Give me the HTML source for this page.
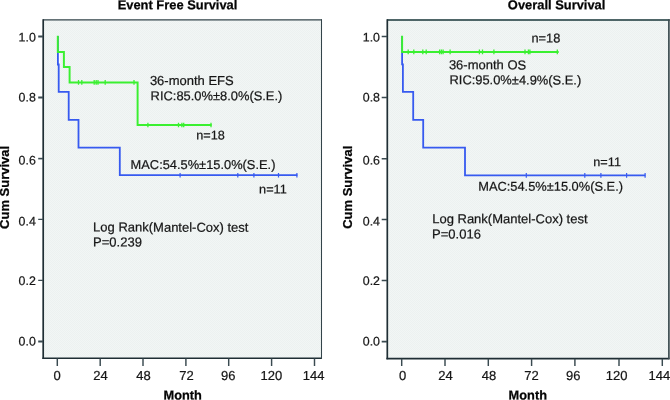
<!DOCTYPE html>
<html>
<head>
<meta charset="utf-8">
<title>Survival curves</title>
<style>
html,body{margin:0;padding:0;background:#fff;}
body{width:670px;height:400px;overflow:hidden;}
svg{display:block;filter:blur(0.3px);}
text{font-family:"Liberation Sans",Arial,Helvetica,sans-serif;font-size:13px;fill:#161616;stroke:#161616;stroke-width:0.22px;}
.yl text{font-size:12.4px;}
.b{font-weight:bold;fill:#050505;stroke:#050505;stroke-width:0.25px;}
.ax{stroke:#1f2e34;stroke-width:1.7;fill:none;}
.tk{stroke:#3a4a50;stroke-width:1.7;fill:none;}
.g{stroke:#3af030;stroke-width:1.95;fill:none;stroke-linejoin:miter;}
.gt{stroke:#3af030;stroke-width:1.3;fill:none;}
.u{stroke:#375af0;stroke-width:1.8;fill:none;stroke-linejoin:miter;}
.ut{stroke:#375af0;stroke-width:1.2;fill:none;}
</style>
</head>
<body>
<svg width="670" height="400" viewBox="0 0 670 400">
<defs>
<pattern id="ht" width="2" height="2" patternUnits="userSpaceOnUse">
<rect width="2" height="2" fill="#f2f6f5"/>
<rect x="0" y="0" width="1" height="1" fill="#ecf1f0"/>
<rect x="1" y="1" width="1" height="1" fill="#ecf1f0"/>
</pattern>
</defs>
<rect x="0" y="0" width="670" height="400" fill="#ffffff"/>

<!-- LEFT PANEL -->
<rect x="43.1" y="19.6" width="278.4" height="338.7" fill="url(#ht)"/>
<path class="ax" style="stroke:#33444a;stroke-width:1.25" d="M43.1,19.9 H321.9"/>
<path class="ax" d="M43.2,19.3 V359"/>
<path class="ax" style="stroke-width:1.5" d="M42.4,358.3 H322"/>
<path class="ax" style="stroke:#33444a;stroke-width:1.05" d="M321.5,19.3 V359"/>
<!-- y ticks -->
<path class="tk" style="stroke-width:2" d="M38.2,36.6H43 M38.2,97.4H43 M38.2,341.5H43"/>
<path class="tk" style="stroke-width:1.6" d="M38.2,158.6H43"/>
<path class="tk" style="stroke-width:1.35" d="M38.2,219.3H43 M38.2,280.4H43"/>
<!-- x ticks -->
<path class="tk" style="stroke-width:1.45" d="M57.3,358.5V365.9 M100.2,358.5V365.9 M143,358.5V365.9 M185.9,358.5V365.9 M228.7,358.5V365.9 M271.6,358.5V365.9 M314.5,358.5V365.9"/>
<g class="yl" text-anchor="end">
<text x="35.8" y="41.6" transform="rotate(0.03 35.8 41.6)">1.0</text>
<text x="35.8" y="101.6" transform="rotate(0.03 35.8 101.6)">0.8</text>
<text x="35.8" y="164.5" transform="rotate(0.03 35.8 164.5)">0.6</text>
<text x="35.8" y="225.5" transform="rotate(0.03 35.8 225.5)">0.4</text>
<text x="35.8" y="285" transform="rotate(0.03 35.8 285)">0.2</text>
<text x="35.8" y="345.6" transform="rotate(0.03 35.8 345.6)">0.0</text>
</g>
<g text-anchor="middle">
<text x="57.2" y="380" transform="rotate(0.03 57.2 380)">0</text>
<text x="100.5" y="380" transform="rotate(0.03 100.5 380)">24</text>
<text x="143.6" y="380" transform="rotate(0.03 143.6 380)">48</text>
<text x="186.4" y="380" transform="rotate(0.03 186.4 380)">72</text>
<text x="228.2" y="380" transform="rotate(0.03 228.2 380)">96</text>
<text x="271.4" y="380" transform="rotate(0.03 271.4 380)">120</text>
<text x="313.6" y="380" transform="rotate(0.03 313.6 380)">144</text>
</g>
<text class="b" x="177.5" y="9.2" text-anchor="middle" style="font-size:12.9px" transform="rotate(0.03 177.5 9.2)">Event Free Survival</text>
<text class="b" x="182.7" y="399.4" text-anchor="middle" style="font-size:12.8px" transform="rotate(0.03 182.7 399.4)">Month</text>
<text class="b" transform="translate(9.1,187.4) rotate(-90)" text-anchor="middle">Cum Survival</text>

<rect x="58.8" y="53" width="1.3" height="11.3" fill="#fdfefe"/>
<!-- blue MAC -->
<path class="u" d="M57.9,36 V64.5 H58.7 V91.8 H68.7 V119.8 H78.5 V147.6 H119.8 V175.15 H297.4"/>
<path class="ut" d="M180.1,173 V177.6 M237.8,173 V177.6 M253.9,173 V177.6 M278.5,173 V177.6 M296.9,173 V177.6"/>
<!-- green RIC -->
<path class="g" d="M57.8,35.8 V51.9 H63.9 V66.9 H69.6 V82.4 H137.6 V125 H211.6"/>
<path class="gt" d="M78.5,80.1 V84.7 M81.8,80.1 V84.7 M94.2,80.1 V84.7 M96.2,80.1 V84.7 M98,80.1 V84.7 M105.2,80.1 V84.7 M134,80.1 V84.7 M147.9,122.7 V127.3 M178.5,122.7 V127.3 M181.9,122.7 V127.3 M183.7,122.7 V127.3 M211,122.7 V127.3"/>

<text x="149.9" y="84.9" transform="rotate(0.03 149.9 84.9)">36-month EFS</text>
<text x="150.6" y="100.3" style="font-size:12.9px" transform="rotate(0.03 150.6 100.3)">RIC:85.0%±8.0%(S.E.)</text>
<text x="196.3" y="139.5" style="font-size:12.7px" transform="rotate(0.03 196.3 139.5)">n=18</text>
<text x="130.6" y="168.9" style="font-size:12.85px" transform="rotate(0.03 130.6 168.9)">MAC:54.5%±15.0%(S.E.)</text>
<text x="259.1" y="193.45" style="font-size:12.7px" transform="rotate(0.03 259.1 193.45)">n=11</text>
<text x="93.1" y="231.6" transform="rotate(0.03 93.1 231.6)">Log Rank(Mantel-Cox) test</text>
<text x="93.1" y="246.6" transform="rotate(0.03 93.1 246.6)">P=0.239</text>

<!-- RIGHT PANEL -->
<rect x="387.1" y="19.6" width="281.7" height="339" fill="url(#ht)"/>
<path class="ax" style="stroke:#4f6668;stroke-width:1.8" d="M387.1,20 H669.8"/>
<path class="ax" d="M387.3,19.3 V359.3"/>
<path class="ax" style="stroke-width:1.6" d="M386.4,358.6 H669.5"/>
<path class="ax" style="stroke:#3c4c50;stroke-width:1.7" d="M668.9,19.3 V359.3"/>
<path class="tk" style="stroke-width:1.55" d="M381.7,36.4H387 M381.7,97.5H387 M381.7,158.7H387 M381.7,219.5H387 M381.7,280.5H387 M381.7,341.6H387"/>
<path class="tk" style="stroke-width:1.45" d="M401.7,358.8V366 M445,358.8V366 M488.3,358.8V366 M531.6,358.8V366 M574.9,358.8V366 M619,358.8V366 M662.3,358.8V366"/>
<g class="yl" text-anchor="end">
<text x="380" y="41.6" transform="rotate(0.03 380 41.6)">1.0</text>
<text x="380" y="101.6" transform="rotate(0.03 380 101.6)">0.8</text>
<text x="380" y="164.5" transform="rotate(0.03 380 164.5)">0.6</text>
<text x="380" y="225.5" transform="rotate(0.03 380 225.5)">0.4</text>
<text x="380" y="285" transform="rotate(0.03 380 285)">0.2</text>
<text x="380" y="345.6" transform="rotate(0.03 380 345.6)">0.0</text>
</g>
<g text-anchor="middle">
<text x="402.6" y="380" transform="rotate(0.03 402.6 380)">0</text>
<text x="445.5" y="380" transform="rotate(0.03 445.5 380)">24</text>
<text x="489" y="380" transform="rotate(0.03 489 380)">48</text>
<text x="531.6" y="380" transform="rotate(0.03 531.6 380)">72</text>
<text x="573.3" y="380" transform="rotate(0.03 573.3 380)">96</text>
<text x="616.7" y="380" transform="rotate(0.03 616.7 380)">120</text>
<text x="659.3" y="380" transform="rotate(0.03 659.3 380)">144</text>
</g>
<text class="b" x="556.6" y="9.2" text-anchor="middle" style="font-size:12.9px" transform="rotate(0.03 556.6 9.2)">Overall Survival</text>
<text class="b" x="527.8" y="399.4" text-anchor="middle" style="font-size:12.8px" transform="rotate(0.03 527.8 399.4)">Month</text>
<text class="b" transform="translate(351.9,187.3) rotate(-90)" text-anchor="middle">Cum Survival</text>

<path class="u" d="M402.1,36 V64.3 H402.9 V91.8 H413.2 V119.9 H423.2 V147.7 H465 V175.4 H645.4"/>
<path class="ut" d="M526.3,173.1 V177.7 M584.8,173.1 V177.7 M600.9,173.1 V177.7 M626.6,173.1 V177.7 M645.1,173.1 V177.7"/>
<path class="g" d="M402.1,35.8 V51.9 H558.7"/>
<path class="gt" d="M408.2,49.6 V54.2 M413.8,49.6 V54.2 M422.8,49.6 V54.2 M426.2,49.6 V54.2 M439.6,49.6 V54.2 M441.4,49.6 V54.2 M443.1,49.6 V54.2 M450.1,49.6 V54.2 M479.4,49.6 V54.2 M482.5,49.6 V54.2 M493.9,49.6 V54.2 M525,49.6 V54.2 M528.4,49.6 V54.2 M529.9,49.6 V54.2 M557.3,49.6 V54.2"/>

<text x="448.9" y="69.35" transform="rotate(0.03 448.9 69.35)">36-month OS</text>
<text x="449.5" y="84.35" style="font-size:12.9px" transform="rotate(0.03 449.5 84.35)">RIC:95.0%±4.9%(S.E.)</text>
<text x="531.5" y="42.6" style="font-size:12.8px" transform="rotate(0.03 531.5 42.6)">n=18</text>
<text x="593.3" y="166.3" style="font-size:12.7px" transform="rotate(0.03 593.3 166.3)">n=11</text>
<text x="478.2" y="190.7" style="font-size:12.85px" transform="rotate(0.03 478.2 190.7)">MAC:54.5%±15.0%(S.E.)</text>
<text x="432.2" y="223.2" transform="rotate(0.03 432.2 223.2)">Log Rank(Mantel-Cox) test</text>
<text x="432.1" y="238.6" transform="rotate(0.03 432.1 238.6)">P=0.016</text>
</svg>
</body>
</html>
